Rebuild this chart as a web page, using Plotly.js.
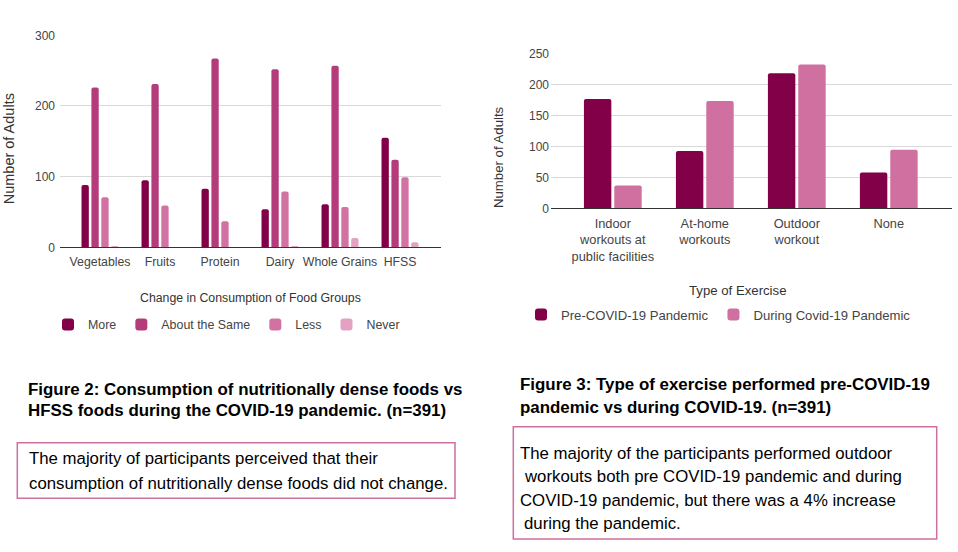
<!DOCTYPE html>
<html>
<head>
<meta charset="utf-8">
<script src="https://cdn.plot.ly/plotly-3.0.1.min.js"></script>
<style>
html,body{margin:0;padding:0;background:#fff;}
#chart{width:958px;height:552px;}
</style>
</head>
<body>
<div id="chart"></div>
<script>
// ---- Data: Figure 2 ----
const foodCategories = ['Vegetables', 'Fruits', 'Protein', 'Dairy', 'Whole Grains', 'HFSS'];
const moreValues = [88, 95, 83, 54, 61, 155];
const aboutSameValues = [226, 231, 267, 252, 257, 124];
const lessValues = [71, 59, 37, 79, 57, 99];
const neverValues = [2, 0, 0, 2, 13, 7];
const foodSeriesNames = ['More', 'About the Same', 'Less', 'Never'];
const foodTicks = [0, 100, 200, 300];

// ---- Data: Figure 3 ----
const exerciseCategories = ['Indoor<br>workouts at<br>public facilities', 'At-home<br>workouts', 'Outdoor<br>workout', 'None'];
const preCovidValues = [177, 93, 219, 58];
const duringCovidValues = [37, 174, 233, 95];
const exerciseSeriesNames = ['Pre-COVID-19 Pandemic', 'During Covid-19 Pandemic'];
const exerciseTicks = [0, 50, 100, 150, 200, 250];

// ---- Styles ----
const W = 958, H = 552;
const px = v => v / W;
const py = v => 1 - v / H;
const FONT = 'Liberation Sans, Arial, sans-serif';
const foodColors = ['#820047', '#b53c7b', '#d272a2', '#e4a2c3'];
const exColors = ['#820047', '#d070a0'];

const foodData = [moreValues, aboutSameValues, lessValues, neverValues];
const traces = [];
foodData.forEach((vals, i) => {
  traces.push({
    type: 'bar', x: foodCategories, y: vals, name: foodSeriesNames[i],
    marker: {color: foodColors[i]}, width: 0.122,
    xaxis: 'x', yaxis: 'y', legend: 'legend', hoverinfo: 'skip'
  });
});
[preCovidValues, duringCovidValues].forEach((vals, i) => {
  traces.push({
    type: 'bar', x: exerciseCategories, y: vals, name: exerciseSeriesNames[i],
    marker: {color: exColors[i]}, width: 0.298,
    xaxis: 'x2', yaxis: 'y2', legend: 'legend2', hoverinfo: 'skip'
  });
});

const f = (size, color) => ({family: FONT, size: size, color: color || '#444'});
const axisCommonX = {
  type: 'category', showgrid: false, zeroline: false, showline: true,
  linecolor: '#333', linewidth: 1, ticks: '', fixedrange: true
};
const axisCommonY = {
  showgrid: true, gridcolor: '#d9d9d9', gridwidth: 1, zeroline: false,
  showline: false, ticks: '', fixedrange: true
};

const annotations = [];
function txt(text, x, y, opts) {
  annotations.push(Object.assign({
    text: text, x: px(x), y: py(y), xref: 'paper', yref: 'paper',
    xanchor: 'left', yanchor: 'middle', showarrow: false,
    font: f(16.8, '#000')
  }, opts || {}));
}
// axis titles
txt('Number of Adults', 9.3, 149, {xanchor: 'center', textangle: -90, font: f(14.5, '#333')});
txt('Change in Consumption of Food Groups', 250, 298, {xanchor: 'center', font: f(12.3, '#333')});
txt('Number of Adults', 498, 157, {xanchor: 'center', textangle: -90, font: f(13.2, '#333')});
txt('Type of Exercise', 737, 290, {xanchor: 'center', font: f(13.2, '#333')});
// captions
txt('<b>Figure 2: Consumption of nutritionally dense foods vs</b>', 26, 389, {font: f(16.9, '#000')});
txt('<b>HFSS foods during the COVID-19 pandemic. (n=391)</b>', 26, 410.7, {font: f(16.9, '#000')});
txt('<b>Figure 3: Type of exercise performed pre-COVID-19</b>', 518, 384, {font: f(16.9, '#000')});
txt('<b>pandemic vs during COVID-19. (n=391)</b>', 518, 407.3, {font: f(16.9, '#000')});
// box texts
txt('The majority of participants perceived that their', 27, 458.3);
txt('consumption of nutritionally dense foods did not change.', 27, 483.3);
txt('The majority of the participants performed outdoor', 518, 453.3);
txt('workouts both pre COVID-19 pandemic and during', 522, 476.7);
txt('COVID-19 pandemic, but there was a 4% increase', 518, 500);
txt('during the pandemic.', 522, 523.3);

const boxLine = {color: '#cf6fa0', width: 1.5};
const shapes = [
  {type: 'rect', xref: 'paper', yref: 'paper', x0: px(17.3), x1: px(455), y0: py(442.7), y1: py(498.3), line: boxLine},
  {type: 'rect', xref: 'paper', yref: 'paper', x0: px(513.3), x1: px(936.7), y0: py(426.7), y1: py(539), line: boxLine}
];

const layout = {
  width: W, height: H,
  margin: {l: 0, r: 0, t: 0, b: 0},
  paper_bgcolor: '#fff', plot_bgcolor: '#fff',
  font: f(12),
  barmode: 'group', bargap: 0.34, bargroupgap: 0,
  barcornerradius: 2,
  showlegend: true,
  xaxis: Object.assign({}, axisCommonX, {
    domain: [px(60), px(441)], range: [-0.667, 5.683], anchor: 'y',
    tickfont: f(12.3), ticklabelstandoff: 3
  }),
  yaxis: Object.assign({}, axisCommonY, {
    domain: [py(247.3), py(35.3)], range: [0, 300], tickvals: foodTicks, anchor: 'x',
    tickfont: f(12), ticklabelstandoff: 4
  }),
  xaxis2: Object.assign({}, axisCommonX, {
    domain: [px(551), px(951.7)], range: [-0.672, 3.684], anchor: 'y2',
    tickfont: f(12.8), ticklabelstandoff: 3
  }),
  yaxis2: Object.assign({}, axisCommonY, {
    domain: [py(208.3), py(54)], range: [0, 250], tickvals: exerciseTicks, anchor: 'x2',
    tickfont: f(12), ticklabelstandoff: 1
  }),
  legend: {
    orientation: 'h', x: px(48), y: py(325), xanchor: 'left', yanchor: 'middle',
    font: f(12.4), bgcolor: 'rgba(0,0,0,0)', traceorder: 'normal'
  },
  legend2: {
    orientation: 'h', x: px(521), y: py(315), xanchor: 'left', yanchor: 'middle',
    font: f(13.1), bgcolor: 'rgba(0,0,0,0)', traceorder: 'normal'
  },
  annotations: annotations,
  shapes: shapes
};

Plotly.newPlot('chart', traces, layout, {displayModeBar: false, staticPlot: true});
</script>
</body>
</html>
